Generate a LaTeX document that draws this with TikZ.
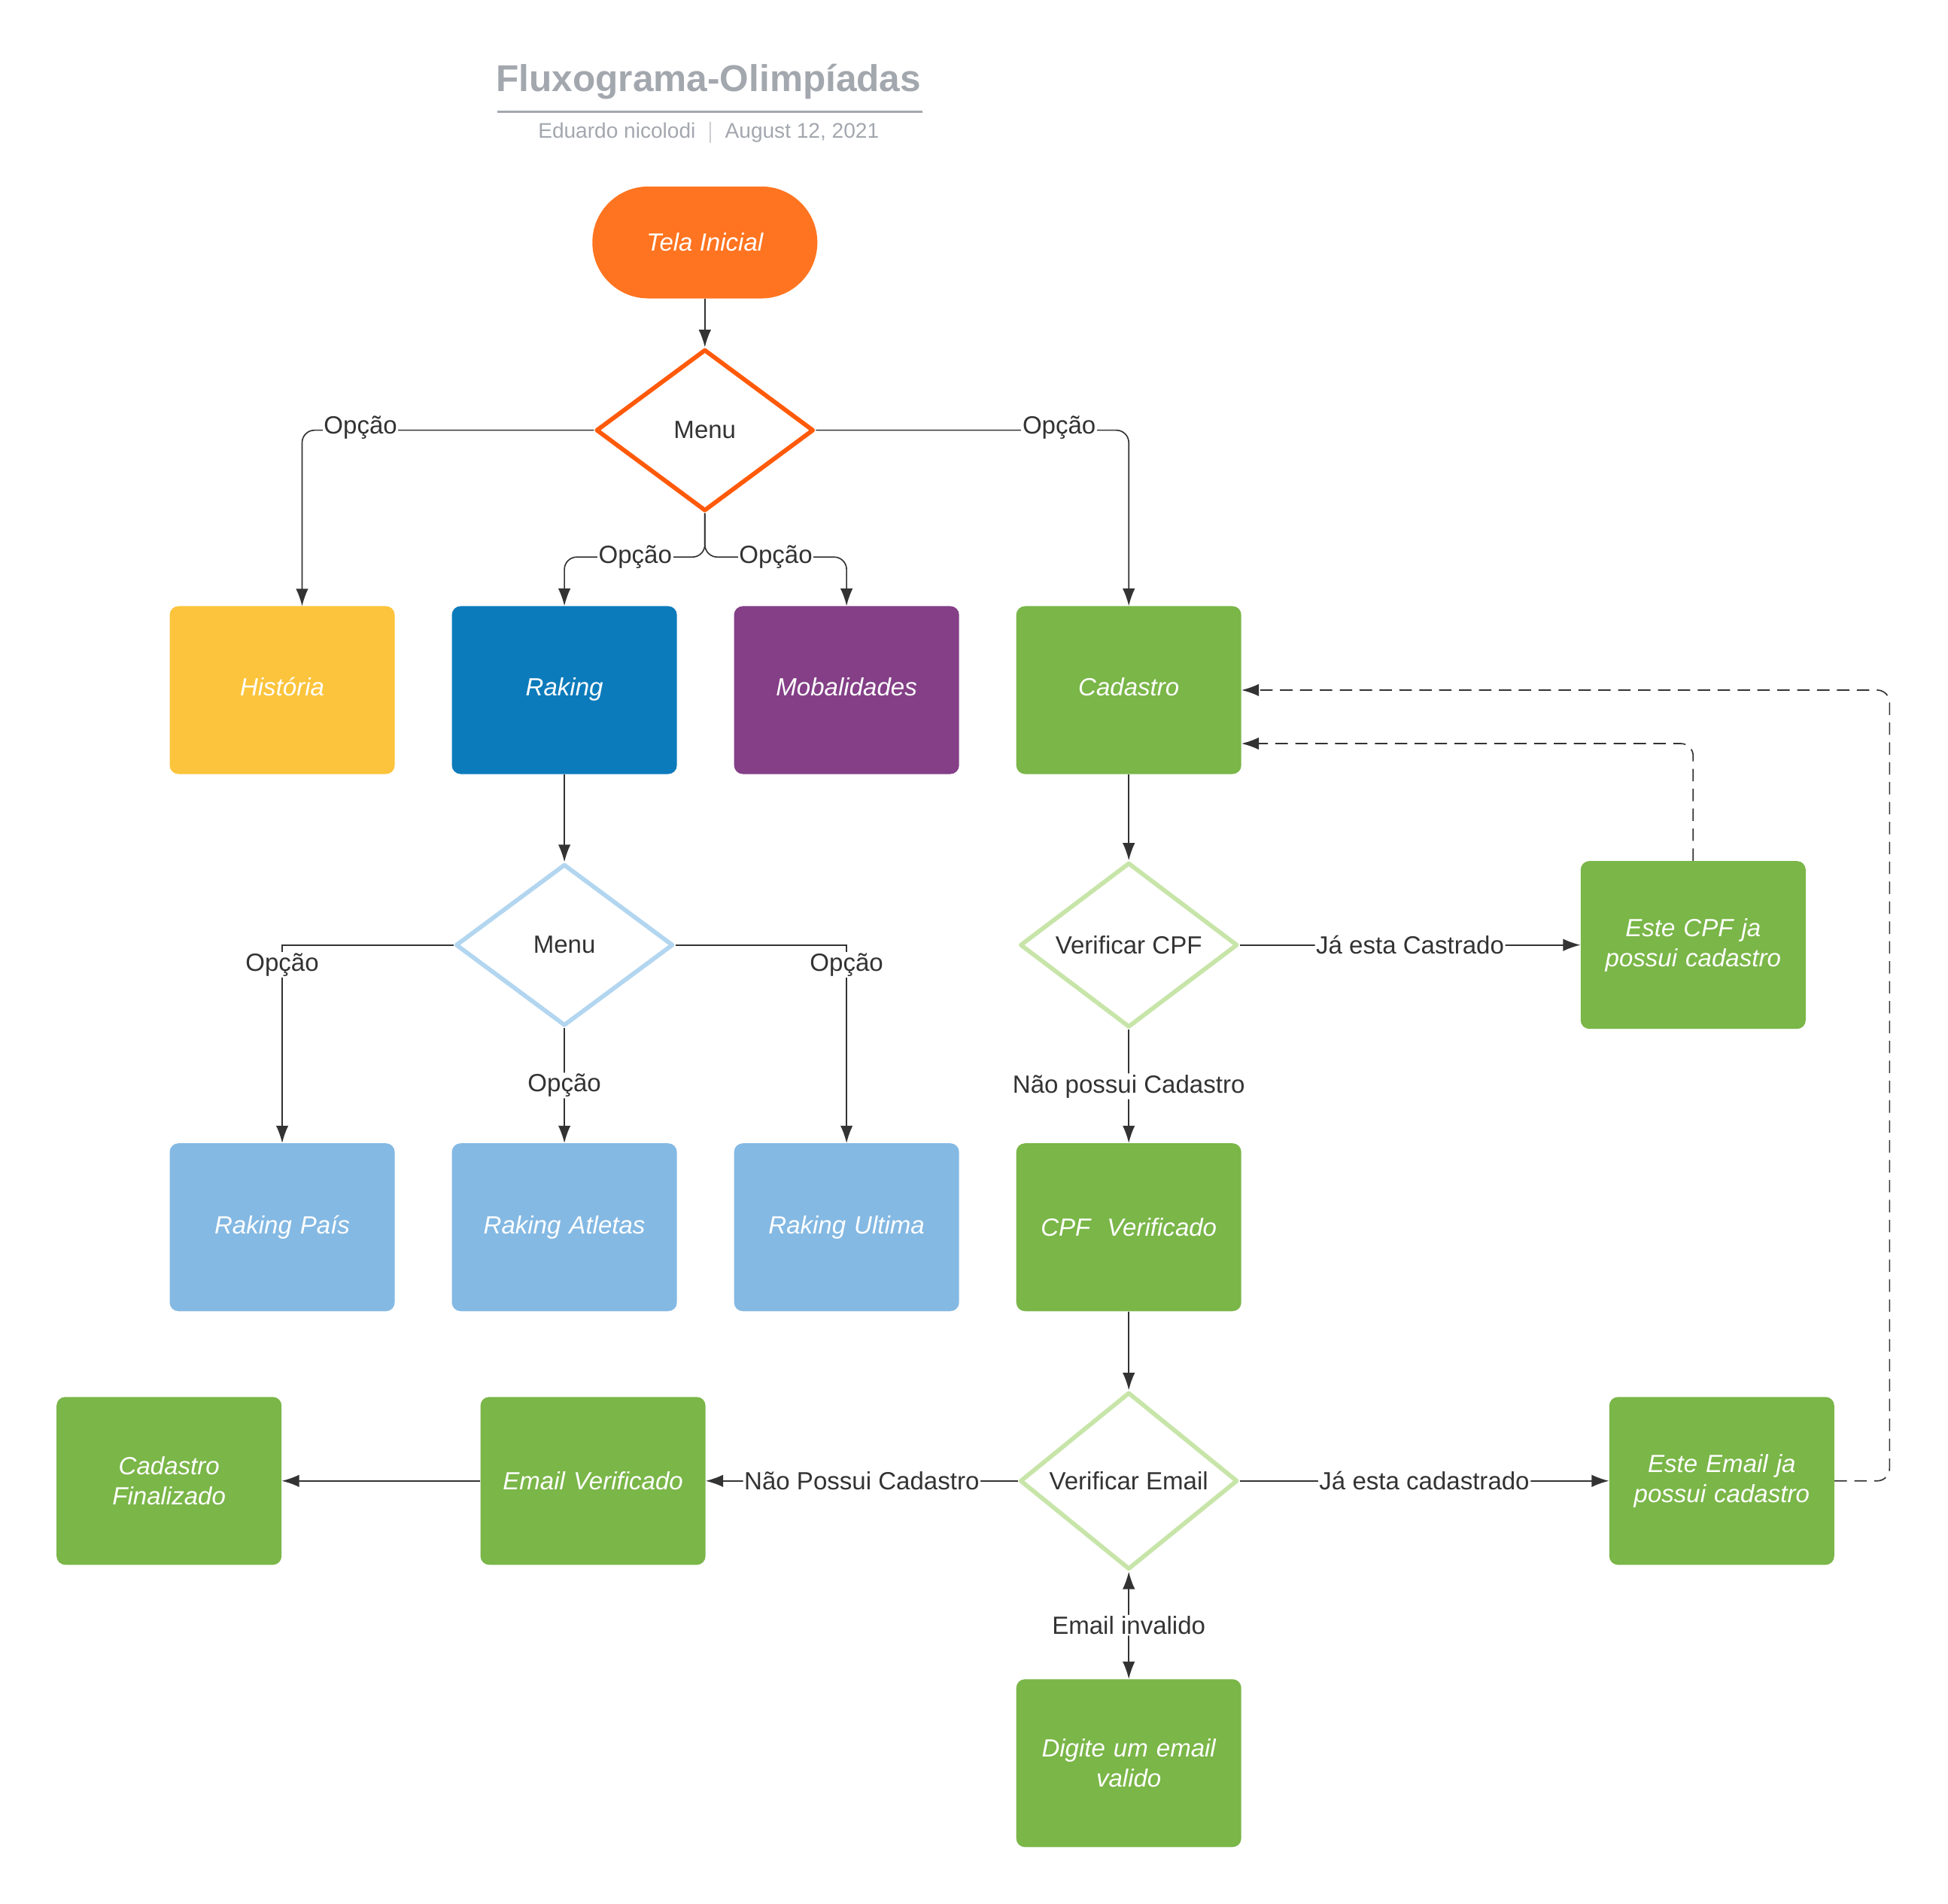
\documentclass[tikz,border=0pt]{standalone}
\usepackage{fontspec}
\setmainfont{Liberation Sans}
\usetikzlibrary{shapes.geometric,arrows.meta,positioning}
\definecolor{txt}{HTML}{333333}
\definecolor{grey}{HTML}{A3A7AE}
\definecolor{orng}{HTML}{FF7420}
\definecolor{orline}{HTML}{FF5A0A}
\definecolor{yell}{HTML}{FCC43C}
\definecolor{blu}{HTML}{0C7BBB}
\definecolor{purp}{HTML}{843F87}
\definecolor{grn}{HTML}{7AB648}
\definecolor{lblu}{HTML}{84B9E3}
\definecolor{lbline}{HTML}{B3D6F0}
\definecolor{lgline}{HTML}{C7E5A8}
\tikzset{
  box/.style={rectangle, rounded corners=7pt, minimum width=181pt, minimum height=135pt,
    text width=160pt, align=center, text=white, font=\fontsize{20}{24}\selectfont\itshape},
  dec/.style={diamond, draw=#1, line width=3.5pt, line join=round, fill=white, inner sep=0pt,
    minimum width=175pt, minimum height=130pt, align=center, text=txt,
    font=\fontsize{20}{24}\selectfont},
  flow/.style={draw=txt, line width=1pt, rounded corners=10pt, -{Latex[length=14pt,width=10pt]}},
  dflow/.style={flow, dash pattern=on 10pt off 6pt},
  lab/.style={fill=white, inner sep=1pt, text=txt, font=\fontsize{20}{24}\selectfont}
}
\begin{document}
\begin{tikzpicture}[x=1pt, y=-1pt]
\useasboundingbox (0,0) rectangle (1567,1531);

% Title
\node[text=grey, font=\fontsize{30}{34}\selectfont\bfseries] (title) at (570,66) {Fluxograma-Olimpíadas};
\draw[grey, line width=2pt] (400,90) -- (742,90);
\node[text=grey, font=\fontsize{17}{20}\selectfont] (sub) at (570,107) {Eduardo nicolodi \ $|$ \ August 12, 2021};

% Top
\node[rectangle, rounded corners=45pt, fill=orng, minimum width=181pt, minimum height=90pt,
  text=white, font=\fontsize{20}{24}\selectfont\itshape] (start) at (567,195) {Tela Inicial};
\node[dec=orline] (menu) at (567,346) {Menu};

% Options
\node[box, fill=yell] (hist) at (227,555) {\strut História};
\node[box, fill=blu] (rank) at (454,555) {\strut Raking};
\node[box, fill=purp] (moda) at (681,555) {\strut Mobalidades};
\node[box, fill=grn] (cad) at (908,555) {\strut Cadastro};

% Ranking
\node[dec=lbline] (menu2) at (454,760) {Menu};
\node[box, fill=lblu] (rpais) at (227,987) {Raking País};
\node[box, fill=lblu] (ratl) at (454,987) {Raking Atletas};
\node[box, fill=lblu] (rult) at (681,987) {Raking Ultima};

% Registration
\node[dec=lgline] (vcpf) at (908,760) {Verificar CPF};
\node[box, fill=grn] (cpfja) at (1362,760) {Este CPF ja\\possui cadastro};
\node[box, fill=grn] (cpfok) at (908,987) {CPF\ \ Verificado};
\node[dec=lgline] (vmail) at (908,1191) {Verificar Email};
\node[box, fill=grn] (mailok) at (477,1191) {Email Verificado};
\node[box, fill=grn] (fim) at (136,1191) {Cadastro\\Finalizado};
\node[box, fill=grn] (mailja) at (1385,1191) {Este Email ja\\possui cadastro};
\node[box, fill=grn] (digite) at (908,1418) {Digite um email\\valido};

% Connections
\draw[flow] (start) -- (menu);
\draw[flow] (menu.west) -| (243,555-67.5);
\node[lab] at (290,344) {Opção};
\draw[flow] (menu.east) -| (cad.north);
\node[lab] at (852,344) {Opção};
\draw[flow] (menu.south) -- (567,448) -| (rank.north);
\draw[flow] (menu.south) -- (567,448) -| (moda.north);
\node[lab] at (511,448) {Opção};
\node[lab] at (624,448) {Opção};
\draw[flow] (rank) -- (menu2);
\draw[flow, rounded corners=0pt] (menu2.west) -| node[lab, pos=0.55] {Opção} (rpais.north);
\draw[flow, rounded corners=0pt] (menu2.east) -| node[lab, pos=0.55] {Opção} (rult.north);
\draw[flow] (menu2) -- node[lab] {Opção} (ratl);
\draw[flow] (cad) -- (vcpf);
\draw[flow] (vcpf) -- node[lab, pos=0.5] {Já esta Castrado} (cpfja);
\draw[flow] (vcpf) -- node[lab] {Não possui Cadastro} (cpfok);
\draw[dflow] (cpfja.north) |- (cad.east |- 0,598);
\draw[flow] (cpfok) -- (vmail);
\draw[flow] (vmail) -- node[lab] {Não Possui Cadastro} (mailok);
\draw[flow] (mailok) -- (fim);
\draw[flow] (vmail) -- node[lab] {Já esta cadastrado} (mailja);
\draw[dflow] (mailja.east) -- (1520,1191) -- (1520,555) -- (cad.east);
\draw[flow, {Latex[length=14pt,width=10pt]}-{Latex[length=14pt,width=10pt]}] (vmail) -- node[lab] {Email invalido} (digite);
\end{tikzpicture}
\end{document}
